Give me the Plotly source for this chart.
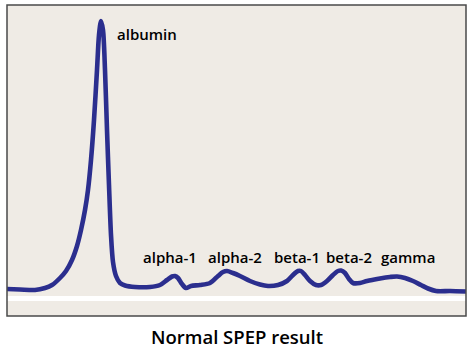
import plotly.graph_objects as go

# Electrophoretic migration distance (arbitrary units) and absorbance (arbitrary units)
migration = [0, 13, 28, 38, 45, 53, 59, 65, 70, 74, 78, 81, 84, 87, 90, 92, 94, 96, 98, 100,
             102, 104, 106, 109, 113, 118, 128, 143, 153, 160, 165, 168, 171, 175, 179, 184,
             193, 203, 211, 216, 220, 226, 233, 243, 253, 261, 271, 280, 286, 291, 294, 298,
             303, 309, 314, 320, 326, 331, 334, 338, 342, 346, 353, 360, 373, 383, 390, 398,
             406, 414, 421, 429, 443, 459]
absorbance = [27, 26.5, 26, 28, 31, 38, 45, 56, 70, 86, 106, 126, 156, 196, 246, 281, 295, 286,
              246, 186, 131, 81, 54, 40, 33, 30.5, 29, 29, 31, 36, 39.5, 40, 38, 32, 28, 30,
              31, 33, 40, 44, 45, 43, 40, 35, 31.5, 30, 31, 35, 41, 45, 45, 41, 35, 31, 31,
              35, 41, 45, 45.5, 43, 37, 33, 33, 35, 37.5, 39, 39.5, 38, 35, 31, 27.5, 25, 25,
              24.5]

fraction_names = ["albumin", "alpha-1", "alpha-2", "beta-1", "beta-2", "gamma"]
fraction_label_x = [140, 163, 228, 290, 342, 401]
fraction_label_y = [282, 59, 59, 59, 59, 59]

title_text = "Normal SPEP result"

LINE_COLOR = "#2b2e8e"
BG = "#efebe5"
FONT = "Open Sans"

fig = go.Figure()
fig.add_trace(go.Scatter(
    x=migration, y=absorbance, mode="lines",
    line=dict(color=LINE_COLOR, width=4.6, shape="spline", smoothing=0.8),
    hoverinfo="skip", showlegend=False,
))

annotations = []
for name, lx, ly in zip(fraction_names, fraction_label_x, fraction_label_y):
    annotations.append(dict(
        x=lx, y=ly, xref="x", yref="y",
        text=name,
        showarrow=False, xanchor="center", yanchor="middle",
        font=dict(family=FONT, size=15, color="#000000", weight=600),
    ))
annotations.append(dict(
    x=0.5, y=-0.066, xref="paper", yref="paper",
    text=title_text,
    showarrow=False, xanchor="center", yanchor="middle",
    font=dict(family=FONT, size=18.5, color="#000000", weight=600),
))

shapes = [
    # white baseline band
    dict(type="rect", xref="paper", yref="y", x0=0, x1=1, y0=15, y1=20,
         fillcolor="white", line=dict(width=0), layer="below"),
    # frame
    dict(type="rect", xref="paper", yref="paper", x0=0, x1=1, y0=0, y1=1,
         line=dict(color="#4a4a4a", width=1.5), fillcolor="rgba(0,0,0,0)"),
]

fig.update_layout(
    width=474, height=352,
    margin=dict(l=7, r=8, t=5, b=36),
    paper_bgcolor="white", plot_bgcolor=BG,
    xaxis=dict(range=[0, 459], visible=False, fixedrange=True),
    yaxis=dict(range=[0, 311], visible=False, fixedrange=True),
    annotations=annotations, shapes=shapes,
    showlegend=False,
)

fig.write_html("out.html")
